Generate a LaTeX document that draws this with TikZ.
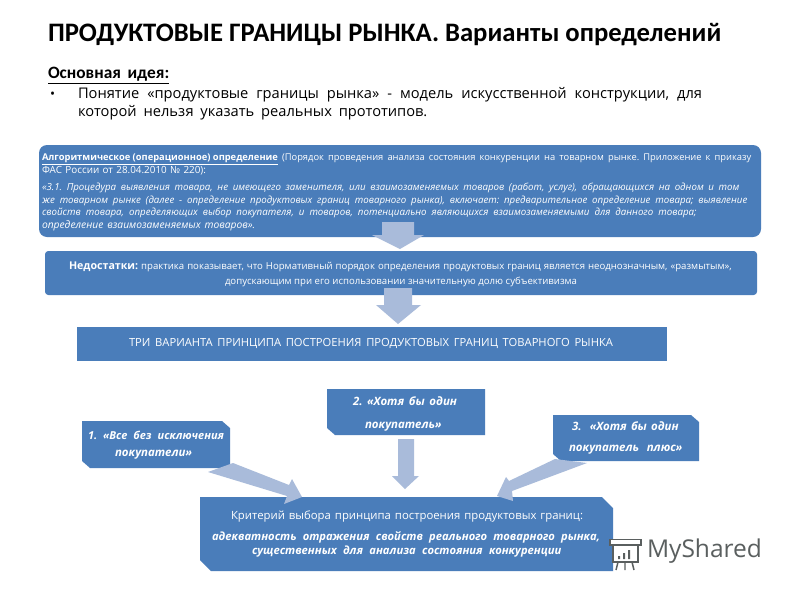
\documentclass[tikz,border=0pt]{standalone}
\usepackage{fontspec}
\setmainfont{Open Sans}
\newfontfamily\ttl{Carlito}
\frenchspacing
\definecolor{boxblue}{HTML}{4A7DBA}
\definecolor{arrowblue}{HTML}{A9BBDA}
\definecolor{logogray}{HTML}{5A5F5F}
\newcommand{\fitw}[2]{\makebox[#1][s]{#2}}
\tikzset{
  blk/.style={fill=boxblue,draw=none},
  arr/.style={fill=arrowblue,draw=none},
  ln/.style={anchor=mid west,inner sep=0pt,outer sep=0pt},
  wh/.style={ln,text=white},
}
\begin{document}
\begin{tikzpicture}[x=0.75pt,y=-0.75pt]
\useasboundingbox (0,0) rectangle (800,600);
\fill[white] (0,0) rectangle (800,600);
% title
\node[ln] (title) at (48,38) {\ttl\fontsize{20pt}{22pt}\selectfont\bfseries\fitw{505pt}{ПРОДУКТОВЫЕ ГРАНИЦЫ РЫНКА. Варианты определений}};
\node[ln] (idea) at (48,75) {\ttl\fontsize{13pt}{14pt}\selectfont\bfseries\underline{\fitw{91pt}{Основная идея:}}};
\node[ln] (bullet) at (50,95) {\fontsize{10pt}{12pt}\selectfont •};
\node[ln] (l1) at (78,95) {\fontsize{11pt}{12pt}\selectfont\fitw{468pt}{Понятие «продуктовые границы рынка» - модель искусственной конструкции, для}};
\node[ln] (l2) at (78,112.5) {\fontsize{11pt}{12pt}\selectfont\fitw{262pt}{которой нельзя указать реальных прототипов.}};
% box 1
\fill[blk,rounded corners=6pt] (39,145) rectangle (761,237);
\node[wh] (a1) at (42,156.5) {\fontsize{7pt}{7pt}\selectfont\fitw{532pt}{\textbf{\underline{Алгоритмическое (операционное) определение}} (Порядок проведения анализа состояния конкуренции на товарном рынке. Приложение к приказу}};
\node[wh] (a2) at (42,170) {\fontsize{7.4pt}{7pt}\selectfont\fitw{123pt}{ФАС России от 28.04.2010 № 220):}};
\node[wh] (a3) at (42,187) {\fontsize{7.3pt}{7pt}\selectfont\itshape\fitw{523pt}{«3.1. Процедура выявления товара, не имеющего заменителя, или взаимозаменяемых товаров (работ, услуг), обращающихся на одном и том}};
\node[wh] (a4) at (42,199.5) {\fontsize{7.3pt}{7pt}\selectfont\itshape\fitw{529pt}{же товарном рынке (далее - определение продуктовых границ товарного рынка), включает: предварительное определение товара; выявление}};
\node[wh] (a5) at (42,212) {\fontsize{7.3pt}{7pt}\selectfont\itshape\fitw{491pt}{свойств товара, определяющих выбор покупателя, и товаров, потенциально являющихся взаимозаменяемыми для данного товара;}};
\node[wh] (a6) at (42,224.5) {\fontsize{7.7pt}{7pt}\selectfont\itshape\fitw{160pt}{определение взаимозаменяемых товаров».}};
% box 2
\fill[blk,rounded corners=2.5pt] (45,251) rectangle (757,295);
\node[wh] (b1) at (69,266) {\fontsize{7.2pt}{8pt}\selectfont\fitw{497pt}{{\fontsize{8pt}{8pt}\selectfont\bfseries Недостатки:} практика показывает, что Нормативный порядок определения продуктовых границ является неоднозначным, «размытым»,}};
\node[wh] (b2) at (225,281) {\fontsize{7.2pt}{8pt}\selectfont\fitw{264pt}{допускающим при его использовании значительную долю субъективизма}};
% arrows between blocks
\fill[arr] (382,222) -- (414,222) -- (414,235) -- (424,235) -- (400,249) -- (372,235) -- (382,235) -- cycle;
\fill[arr] (384,288) -- (412,288) -- (412,305) -- (421,305) -- (398,324) -- (376,305) -- (384,305) -- cycle;
% box 3
\fill[blk] (77,327) rectangle (667,361);
\node[wh] (c1) at (129,343) {\fontsize{8.4pt}{9pt}\selectfont\fitw{363pt}{ТРИ ВАРИАНТА ПРИНЦИПА ПОСТРОЕНИЯ ПРОДУКТОВЫХ ГРАНИЦ ТОВАРНОГО РЫНКА}};
% option boxes
\fill[blk] (82,421) -- (222,421) -- (230,428) -- (230,468) -- (90,468) -- (82,461) -- cycle;
\node[wh] (o1a) at (88,436) {\fontsize{8.2pt}{8pt}\selectfont\bfseries\itshape\fitw{102pt}{1. «Все без исключения}};
\node[wh] (o1b) at (115,453) {\fontsize{8.6pt}{8pt}\selectfont\bfseries\itshape покупатели»};
\fill[blk] (327,389) -- (485,389) -- (485,435) -- (335,435) -- (327,428) -- cycle;
\node[wh] (o2a) at (353,402) {\fontsize{8.6pt}{8pt}\selectfont\bfseries\itshape\fitw{78pt}{2. «Хотя бы один}};
\node[wh] (o2b) at (365,425) {\fontsize{8.6pt}{8pt}\selectfont\bfseries\itshape покупатель»};
\fill[blk] (553,415) -- (691,415) -- (699,422) -- (699,461) -- (561,461) -- (553,454) -- cycle;
\node[wh] (o3a) at (572,427) {\fontsize{8.6pt}{8pt}\selectfont\bfseries\itshape\fitw{80pt}{3.\ \ «Хотя бы один}};
\node[wh] (o3b) at (569,448) {\fontsize{8.6pt}{8pt}\selectfont\bfseries\itshape\fitw{85pt}{покупатель плюс»}};
% bottom box
\fill[blk] (200,497) -- (602,497) -- (613,508) -- (613,571) -- (211,571) -- (200,560) -- cycle;
\node[wh] (k1) at (231,516) {\fontsize{8.5pt}{9pt}\selectfont\fitw{264pt}{Критерий выбора принципа построения продуктовых границ:}};
\node[wh] (k2) at (212,537) {\fontsize{8.4pt}{9pt}\selectfont\bfseries\itshape\fitw{291pt}{адекватность отражения свойств реального товарного рынка,}};
\node[wh] (k3) at (252,551) {\fontsize{8.4pt}{9pt}\selectfont\bfseries\itshape\fitw{232pt}{существенных для анализа состояния конкуренции}};
% arrows to bottom box
\fill[arr] (208,472) -- (233,463) -- (289,485) -- (292,479) -- (302,497) -- (284,504) -- (287,496) -- cycle;
\fill[arr] (398,439) -- (414,439) -- (414,476) -- (419,476) -- (405,489) -- (392,476) -- (398,476) -- cycle;
\fill[arr] (555,459) -- (587,463) -- (512,491) -- (513,501) -- (497,496) -- (506,477) -- (509,481) -- cycle;
% logo
\begin{scope}[draw=logogray,line width=1.1pt]
\draw (612,541) -- (640,541) (613,541) -- (613,562) -- (638,562) -- (638,541);
\draw[fill=white] (610,539.5) rectangle (641,545);
\draw (618,562) -- (616,570) (625,562) -- (625,570) (632,562) -- (634,570);
\fill[logogray] (618,556) rectangle (620,559) (623,553) rectangle (625,559) (628,550) rectangle (630,559);
\end{scope}
\node[ln,text=logogray] (logo) at (647,553.5) {\fontsize{18.4pt}{22pt}\selectfont MyShared};
\end{tikzpicture}
\end{document}
